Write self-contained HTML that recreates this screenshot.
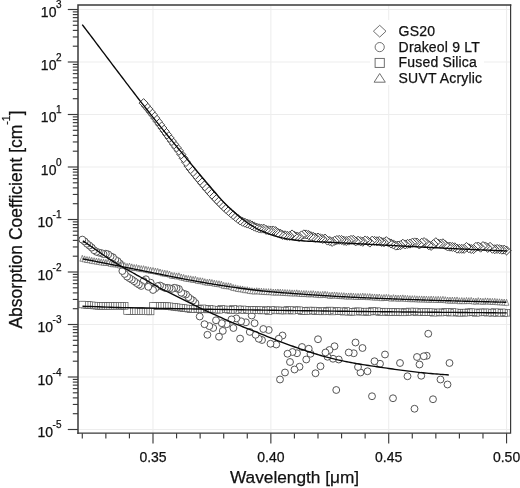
<!DOCTYPE html>
<html lang="en"><head><meta charset="utf-8"><title>Absorption Coefficient vs Wavelength</title>
<style>html,body{margin:0;padding:0;background:#fff;}body{width:520px;height:488px;overflow:hidden;font-family:"Liberation Sans",Arial,sans-serif;}svg{display:block;}</style>
</head><body>
<svg width="520" height="488" viewBox="0 0 520 488">
<rect x="0" y="0" width="520" height="488" fill="#ffffff"/>
<g stroke="#ededed" stroke-width="1.05" fill="none"><line x1="153.00" y1="5.1" x2="153.00" y2="433.2"/><line x1="270.85" y1="5.1" x2="270.85" y2="433.2"/><line x1="388.70" y1="5.1" x2="388.70" y2="433.2"/><line x1="506.55" y1="5.1" x2="506.55" y2="433.2"/><line x1="78.0" y1="429.50" x2="510.6" y2="429.50"/><line x1="78.0" y1="377.00" x2="510.6" y2="377.00"/><line x1="78.0" y1="324.50" x2="510.6" y2="324.50"/><line x1="78.0" y1="272.00" x2="510.6" y2="272.00"/><line x1="78.0" y1="219.50" x2="510.6" y2="219.50"/><line x1="78.0" y1="167.00" x2="510.6" y2="167.00"/><line x1="78.0" y1="114.50" x2="510.6" y2="114.50"/><line x1="78.0" y1="62.00" x2="510.6" y2="62.00"/><line x1="78.0" y1="9.50" x2="510.6" y2="9.50"/></g>
<g fill="#ffffff" stroke="#424242" stroke-width="1.0"><path d="M502.05 250.53L506.55 246.03L511.05 250.53L506.55 255.03Z"/><path d="M499.69 249.60L504.19 245.10L508.69 249.60L504.19 254.10Z"/><path d="M497.34 249.70L501.84 245.20L506.34 249.70L501.84 254.20Z"/><path d="M494.98 249.17L499.48 244.67L503.98 249.17L499.48 253.67Z"/><path d="M492.62 248.92L497.12 244.42L501.62 248.92L497.12 253.42Z"/><path d="M490.27 249.23L494.77 244.73L499.27 249.23L494.77 253.73Z"/><path d="M487.91 248.77L492.41 244.27L496.91 248.77L492.41 253.27Z"/><path d="M485.55 246.79L490.05 242.29L494.55 246.79L490.05 251.29Z"/><path d="M483.19 247.92L487.69 243.42L492.19 247.92L487.69 252.42Z"/><path d="M480.84 246.46L485.34 241.96L489.84 246.46L485.34 250.96Z"/><path d="M478.48 246.06L482.98 241.56L487.48 246.06L482.98 250.56Z"/><path d="M476.12 247.69L480.62 243.19L485.12 247.69L480.62 252.19Z"/><path d="M473.77 246.50L478.27 242.00L482.77 246.50L478.27 251.00Z"/><path d="M471.41 246.83L475.91 242.33L480.41 246.83L475.91 251.33Z"/><path d="M469.05 249.09L473.55 244.59L478.05 249.09L473.55 253.59Z"/><path d="M466.69 248.97L471.19 244.47L475.69 248.97L471.19 253.47Z"/><path d="M464.34 248.29L468.84 243.79L473.34 248.29L468.84 252.79Z"/><path d="M461.98 246.94L466.48 242.44L470.98 246.94L466.48 251.44Z"/><path d="M459.62 248.87L464.12 244.37L468.62 248.87L464.12 253.37Z"/><path d="M457.27 248.81L461.77 244.31L466.27 248.81L461.77 253.31Z"/><path d="M454.91 248.79L459.41 244.29L463.91 248.79L459.41 253.29Z"/><path d="M452.55 248.68L457.05 244.18L461.55 248.68L457.05 253.18Z"/><path d="M450.20 247.28L454.70 242.78L459.20 247.28L454.70 251.78Z"/><path d="M447.84 246.90L452.34 242.40L456.84 246.90L452.34 251.40Z"/><path d="M445.48 246.67L449.98 242.17L454.48 246.67L449.98 251.17Z"/><path d="M443.12 246.50L447.62 242.00L452.12 246.50L447.62 251.00Z"/><path d="M440.77 245.07L445.27 240.57L449.77 245.07L445.27 249.57Z"/><path d="M438.41 243.28L442.91 238.78L447.41 243.28L442.91 247.78Z"/><path d="M436.05 243.61L440.55 239.11L445.05 243.61L440.55 248.11Z"/><path d="M433.70 243.61L438.20 239.11L442.70 243.61L438.20 248.11Z"/><path d="M431.34 242.20L435.84 237.70L440.34 242.20L435.84 246.70Z"/><path d="M428.98 244.08L433.48 239.58L437.98 244.08L433.48 248.58Z"/><path d="M426.63 245.93L431.13 241.43L435.63 245.93L431.13 250.43Z"/><path d="M424.27 245.26L428.77 240.76L433.27 245.26L428.77 249.76Z"/><path d="M421.91 243.25L426.41 238.75L430.91 243.25L426.41 247.75Z"/><path d="M419.56 242.09L424.06 237.59L428.56 242.09L424.06 246.59Z"/><path d="M417.20 242.76L421.70 238.26L426.20 242.76L421.70 247.26Z"/><path d="M414.84 244.50L419.34 240.00L423.84 244.50L419.34 249.00Z"/><path d="M412.48 242.59L416.98 238.09L421.48 242.59L416.98 247.09Z"/><path d="M410.13 242.38L414.63 237.88L419.13 242.38L414.63 246.88Z"/><path d="M407.77 242.72L412.27 238.22L416.77 242.72L412.27 247.22Z"/><path d="M405.41 243.63L409.91 239.13L414.41 243.63L409.91 248.13Z"/><path d="M403.06 243.87L407.56 239.37L412.06 243.87L407.56 248.37Z"/><path d="M400.70 244.46L405.20 239.96L409.70 244.46L405.20 248.96Z"/><path d="M398.34 243.70L402.84 239.20L407.34 243.70L402.84 248.20Z"/><path d="M395.98 245.23L400.48 240.73L404.98 245.23L400.48 249.73Z"/><path d="M393.63 245.51L398.13 241.01L402.63 245.51L398.13 250.01Z"/><path d="M391.27 245.63L395.77 241.13L400.27 245.63L395.77 250.13Z"/><path d="M388.91 244.43L393.41 239.93L397.91 244.43L393.41 248.93Z"/><path d="M386.56 243.48L391.06 238.98L395.56 243.48L391.06 247.98Z"/><path d="M384.20 242.56L388.70 238.06L393.20 242.56L388.70 247.06Z"/><path d="M381.84 241.14L386.34 236.64L390.84 241.14L386.34 245.64Z"/><path d="M379.49 242.25L383.99 237.75L388.49 242.25L383.99 246.75Z"/><path d="M377.13 241.99L381.63 237.49L386.13 241.99L381.63 246.49Z"/><path d="M374.77 240.94L379.27 236.44L383.77 240.94L379.27 245.44Z"/><path d="M372.41 241.28L376.91 236.78L381.41 241.28L376.91 245.78Z"/><path d="M370.06 240.87L374.56 236.37L379.06 240.87L374.56 245.37Z"/><path d="M367.70 240.63L372.20 236.13L376.70 240.63L372.20 245.13Z"/><path d="M365.34 242.58L369.84 238.08L374.34 242.58L369.84 247.08Z"/><path d="M362.99 240.97L367.49 236.47L371.99 240.97L367.49 245.47Z"/><path d="M360.63 240.45L365.13 235.95L369.63 240.45L365.13 244.95Z"/><path d="M358.27 241.81L362.77 237.31L367.27 241.81L362.77 246.31Z"/><path d="M355.92 241.22L360.42 236.72L364.92 241.22L360.42 245.72Z"/><path d="M353.56 240.69L358.06 236.19L362.56 240.69L358.06 245.19Z"/><path d="M351.20 241.41L355.70 236.91L360.20 241.41L355.70 245.91Z"/><path d="M348.84 239.78L353.34 235.28L357.84 239.78L353.34 244.28Z"/><path d="M346.49 239.86L350.99 235.36L355.49 239.86L350.99 244.36Z"/><path d="M344.13 240.62L348.63 236.12L353.13 240.62L348.63 245.12Z"/><path d="M341.77 241.04L346.27 236.54L350.77 241.04L346.27 245.54Z"/><path d="M339.42 240.77L343.92 236.27L348.42 240.77L343.92 245.27Z"/><path d="M337.06 239.94L341.56 235.44L346.06 239.94L341.56 244.44Z"/><path d="M334.70 239.81L339.20 235.31L343.70 239.81L339.20 244.31Z"/><path d="M332.35 240.00L336.85 235.50L341.35 240.00L336.85 244.50Z"/><path d="M329.99 240.84L334.49 236.34L338.99 240.84L334.49 245.34Z"/><path d="M327.63 241.90L332.13 237.40L336.63 241.90L332.13 246.40Z"/><path d="M325.28 241.02L329.78 236.52L334.28 241.02L329.78 245.52Z"/><path d="M322.92 240.59L327.42 236.09L331.92 240.59L327.42 245.09Z"/><path d="M320.56 238.57L325.06 234.07L329.56 238.57L325.06 243.07Z"/><path d="M318.20 238.99L322.70 234.49L327.20 238.99L322.70 243.49Z"/><path d="M315.85 238.29L320.35 233.79L324.85 238.29L320.35 242.79Z"/><path d="M313.49 237.53L317.99 233.03L322.49 237.53L317.99 242.03Z"/><path d="M311.13 237.82L315.63 233.32L320.13 237.82L315.63 242.32Z"/><path d="M308.78 236.78L313.28 232.28L317.78 236.78L313.28 241.28Z"/><path d="M306.42 236.17L310.92 231.67L315.42 236.17L310.92 240.67Z"/><path d="M304.06 234.97L308.56 230.47L313.06 234.97L308.56 239.47Z"/><path d="M301.71 234.43L306.21 229.93L310.71 234.43L306.21 238.93Z"/><path d="M299.35 234.33L303.85 229.83L308.35 234.33L303.85 238.83Z"/><path d="M296.99 235.42L301.49 230.92L305.99 235.42L301.49 239.92Z"/><path d="M294.63 237.01L299.13 232.51L303.63 237.01L299.13 241.51Z"/><path d="M292.28 236.49L296.78 231.99L301.28 236.49L296.78 240.99Z"/><path d="M289.92 235.79L294.42 231.29L298.92 235.79L294.42 240.29Z"/><path d="M287.56 234.43L292.06 229.93L296.56 234.43L292.06 238.93Z"/><path d="M285.21 235.96L289.71 231.46L294.21 235.96L289.71 240.46Z"/><path d="M282.85 235.75L287.35 231.25L291.85 235.75L287.35 240.25Z"/><path d="M280.49 235.29L284.99 230.79L289.49 235.29L284.99 239.79Z"/><path d="M278.13 234.97L282.63 230.47L287.13 234.97L282.63 239.47Z"/><path d="M275.78 233.62L280.28 229.12L284.78 233.62L280.28 238.12Z"/><path d="M273.42 232.90L277.92 228.40L282.42 232.90L277.92 237.40Z"/><path d="M271.06 231.10L275.56 226.60L280.06 231.10L275.56 235.60Z"/><path d="M268.71 230.46L273.21 225.96L277.71 230.46L273.21 234.96Z"/><path d="M266.35 230.67L270.85 226.17L275.35 230.67L270.85 235.17Z"/><path d="M263.99 230.32L268.49 225.82L272.99 230.32L268.49 234.82Z"/><path d="M261.64 229.88L266.14 225.38L270.64 229.88L266.14 234.38Z"/><path d="M259.28 228.62L263.78 224.12L268.28 228.62L263.78 233.12Z"/><path d="M256.92 228.61L261.42 224.11L265.92 228.61L261.42 233.11Z"/><path d="M254.56 228.29L259.06 223.79L263.56 228.29L259.06 232.79Z"/><path d="M252.21 227.62L256.71 223.12L261.21 227.62L256.71 232.12Z"/><path d="M249.85 226.61L254.35 222.11L258.85 226.61L254.35 231.11Z"/><path d="M247.49 225.47L251.99 220.97L256.49 225.47L251.99 229.97Z"/><path d="M245.14 224.35L249.64 219.85L254.14 224.35L249.64 228.85Z"/><path d="M242.78 223.56L247.28 219.06L251.78 223.56L247.28 228.06Z"/><path d="M240.42 222.71L244.92 218.21L249.42 222.71L244.92 227.21Z"/><path d="M238.07 221.77L242.57 217.27L247.07 221.77L242.57 226.27Z"/><path d="M235.71 220.52L240.21 216.02L244.71 220.52L240.21 225.02Z"/><path d="M233.35 218.76L237.85 214.26L242.35 218.76L237.85 223.26Z"/><path d="M230.99 216.89L235.49 212.39L239.99 216.89L235.49 221.39Z"/><path d="M228.64 214.98L233.14 210.48L237.64 214.98L233.14 219.48Z"/><path d="M226.28 213.05L230.78 208.55L235.28 213.05L230.78 217.55Z"/><path d="M223.92 211.06L228.42 206.56L232.92 211.06L228.42 215.56Z"/><path d="M221.57 208.98L226.07 204.48L230.57 208.98L226.07 213.48Z"/><path d="M219.21 206.79L223.71 202.29L228.21 206.79L223.71 211.29Z"/><path d="M216.85 204.47L221.35 199.97L225.85 204.47L221.35 208.97Z"/><path d="M214.50 202.07L219.00 197.57L223.50 202.07L219.00 206.57Z"/><path d="M212.14 199.59L216.64 195.09L221.14 199.59L216.64 204.09Z"/><path d="M209.78 197.08L214.28 192.58L218.78 197.08L214.28 201.58Z"/><path d="M207.43 194.55L211.93 190.05L216.43 194.55L211.93 199.05Z"/><path d="M205.07 191.99L209.57 187.49L214.07 191.99L209.57 196.49Z"/><path d="M202.71 189.19L207.21 184.69L211.71 189.19L207.21 193.69Z"/><path d="M200.35 186.37L204.85 181.87L209.35 186.37L204.85 190.87Z"/><path d="M198.00 183.52L202.50 179.02L207.00 183.52L202.50 188.02Z"/><path d="M195.64 180.67L200.14 176.17L204.64 180.67L200.14 185.17Z"/><path d="M193.28 177.79L197.78 173.29L202.28 177.79L197.78 182.29Z"/><path d="M190.93 174.91L195.43 170.41L199.93 174.91L195.43 179.41Z"/><path d="M188.57 172.03L193.07 167.53L197.57 172.03L193.07 176.53Z"/><path d="M186.21 169.14L190.71 164.64L195.21 169.14L190.71 173.64Z"/><path d="M183.86 165.99L188.36 161.49L192.86 165.99L188.36 170.49Z"/><path d="M181.50 162.12L186.00 157.62L190.50 162.12L186.00 166.62Z"/><path d="M179.14 158.25L183.64 153.75L188.14 158.25L183.64 162.75Z"/><path d="M176.78 154.38L181.28 149.88L185.78 154.38L181.28 158.88Z"/><path d="M174.43 150.79L178.93 146.29L183.43 150.79L178.93 155.29Z"/><path d="M172.07 147.56L176.57 143.06L181.07 147.56L176.57 152.06Z"/><path d="M169.71 144.32L174.21 139.82L178.71 144.32L174.21 148.82Z"/><path d="M167.36 141.07L171.86 136.57L176.36 141.07L171.86 145.57Z"/><path d="M165.00 137.82L169.50 133.32L174.00 137.82L169.50 142.32Z"/><path d="M162.64 134.56L167.14 130.06L171.64 134.56L167.14 139.06Z"/><path d="M160.29 131.29L164.79 126.79L169.29 131.29L164.79 135.79Z"/><path d="M157.93 128.03L162.43 123.53L166.93 128.03L162.43 132.53Z"/><path d="M155.57 124.75L160.07 120.25L164.57 124.75L160.07 129.25Z"/><path d="M153.21 121.46L157.71 116.96L162.21 121.46L157.71 125.96Z"/><path d="M150.86 118.16L155.36 113.66L159.86 118.16L155.36 122.66Z"/><path d="M148.50 114.85L153.00 110.35L157.50 114.85L153.00 119.35Z"/><path d="M146.14 111.79L150.64 107.29L155.14 111.79L150.64 116.29Z"/><path d="M143.79 108.92L148.29 104.42L152.79 108.92L148.29 113.42Z"/><path d="M141.43 106.02L145.93 101.52L150.43 106.02L145.93 110.52Z"/><path d="M139.07 103.12L143.57 98.62L148.07 103.12L143.57 107.62Z"/></g>
<g fill="#ffffff" stroke="#4c4c4c" stroke-width="0.95"><circle cx="449.50" cy="363.00" r="3.45"/><circle cx="447.50" cy="384.50" r="3.45"/><circle cx="440.50" cy="379.50" r="3.45"/><circle cx="433.00" cy="399.25" r="3.45"/><circle cx="428.25" cy="333.75" r="3.45"/><circle cx="426.75" cy="355.75" r="3.45"/><circle cx="423.75" cy="356.25" r="3.45"/><circle cx="421.25" cy="375.75" r="3.45"/><circle cx="419.50" cy="364.50" r="3.45"/><circle cx="417.00" cy="357.00" r="3.45"/><circle cx="414.50" cy="408.75" r="3.45"/><circle cx="407.50" cy="376.25" r="3.45"/><circle cx="400.00" cy="363.00" r="3.45"/><circle cx="393.00" cy="398.25" r="3.45"/><circle cx="385.00" cy="354.50" r="3.45"/><circle cx="380.00" cy="363.75" r="3.45"/><circle cx="374.50" cy="361.25" r="3.45"/><circle cx="372.00" cy="396.25" r="3.45"/><circle cx="367.50" cy="371.25" r="3.45"/><circle cx="362.50" cy="348.00" r="3.45"/><circle cx="360.50" cy="372.50" r="3.45"/><circle cx="358.00" cy="367.00" r="3.45"/><circle cx="355.50" cy="342.50" r="3.45"/><circle cx="353.75" cy="353.25" r="3.45"/><circle cx="348.75" cy="352.50" r="3.45"/><circle cx="338.75" cy="359.50" r="3.45"/><circle cx="336.25" cy="390.00" r="3.45"/><circle cx="334.50" cy="346.25" r="3.45"/><circle cx="333.00" cy="358.75" r="3.45"/><circle cx="329.50" cy="350.00" r="3.45"/><circle cx="327.50" cy="356.75" r="3.45"/><circle cx="325.50" cy="352.50" r="3.45"/><circle cx="320.50" cy="366.25" r="3.45"/><circle cx="318.00" cy="339.25" r="3.45"/><circle cx="315.50" cy="373.25" r="3.45"/><circle cx="310.50" cy="353.75" r="3.45"/><circle cx="308.75" cy="348.75" r="3.45"/><circle cx="306.25" cy="359.50" r="3.45"/><circle cx="302.00" cy="347.00" r="3.45"/><circle cx="299.50" cy="366.75" r="3.45"/><circle cx="297.00" cy="353.25" r="3.45"/><circle cx="294.50" cy="369.50" r="3.45"/><circle cx="292.50" cy="352.00" r="3.45"/><circle cx="290.00" cy="362.00" r="3.45"/><circle cx="287.50" cy="353.75" r="3.45"/><circle cx="285.00" cy="372.50" r="3.45"/><circle cx="282.50" cy="335.50" r="3.45"/><circle cx="280.00" cy="379.50" r="3.45"/><circle cx="278.75" cy="338.75" r="3.45"/><circle cx="276.25" cy="344.50" r="3.45"/><circle cx="270.50" cy="343.75" r="3.45"/><circle cx="268.75" cy="330.00" r="3.45"/><circle cx="263.30" cy="329.00" r="3.45"/><circle cx="262.00" cy="340.00" r="3.45"/><circle cx="258.75" cy="338.75" r="3.45"/><circle cx="255.60" cy="334.80" r="3.45"/><circle cx="254.60" cy="323.20" r="3.45"/><circle cx="251.70" cy="315.50" r="3.45"/><circle cx="249.80" cy="331.90" r="3.45"/><circle cx="245.90" cy="322.30" r="3.45"/><circle cx="241.10" cy="321.30" r="3.45"/><circle cx="240.10" cy="338.60" r="3.45"/><circle cx="236.30" cy="318.40" r="3.45"/><circle cx="233.40" cy="328.00" r="3.45"/><circle cx="231.50" cy="319.40" r="3.45"/><circle cx="226.70" cy="324.20" r="3.45"/><circle cx="222.80" cy="330.90" r="3.45"/><circle cx="221.80" cy="323.20" r="3.45"/><circle cx="219.00" cy="336.70" r="3.45"/><circle cx="216.00" cy="320.30" r="3.45"/><circle cx="213.20" cy="328.00" r="3.45"/><circle cx="209.30" cy="326.10" r="3.45"/><circle cx="207.40" cy="334.80" r="3.45"/><circle cx="204.50" cy="324.20" r="3.45"/><circle cx="199.70" cy="316.50" r="3.45"/><circle cx="195.44" cy="303.03" r="3.45"/><circle cx="193.08" cy="300.53" r="3.45"/><circle cx="190.72" cy="299.04" r="3.45"/><circle cx="188.36" cy="297.16" r="3.45"/><circle cx="186.01" cy="294.48" r="3.45"/><circle cx="183.65" cy="293.72" r="3.45"/><circle cx="181.29" cy="292.70" r="3.45"/><circle cx="178.94" cy="289.04" r="3.45"/><circle cx="176.58" cy="288.26" r="3.45"/><circle cx="174.22" cy="287.82" r="3.45"/><circle cx="171.87" cy="288.92" r="3.45"/><circle cx="169.51" cy="288.27" r="3.45"/><circle cx="167.15" cy="287.85" r="3.45"/><circle cx="164.79" cy="287.85" r="3.45"/><circle cx="162.44" cy="286.78" r="3.45"/><circle cx="160.08" cy="285.54" r="3.45"/><circle cx="157.72" cy="286.09" r="3.45"/><circle cx="155.37" cy="288.24" r="3.45"/><circle cx="153.01" cy="289.96" r="3.45"/><circle cx="150.65" cy="282.71" r="3.45"/><circle cx="148.30" cy="286.81" r="3.45"/><circle cx="145.94" cy="279.28" r="3.45"/><circle cx="143.58" cy="281.10" r="3.45"/><circle cx="141.22" cy="285.94" r="3.45"/><circle cx="138.87" cy="284.55" r="3.45"/><circle cx="136.51" cy="282.96" r="3.45"/><circle cx="134.15" cy="281.17" r="3.45"/><circle cx="131.80" cy="279.61" r="3.45"/><circle cx="129.44" cy="278.12" r="3.45"/><circle cx="127.08" cy="276.62" r="3.45"/><circle cx="124.73" cy="273.94" r="3.45"/><circle cx="122.37" cy="271.02" r="3.45"/><circle cx="120.01" cy="263.68" r="3.45"/><circle cx="117.65" cy="261.17" r="3.45"/><circle cx="115.30" cy="259.89" r="3.45"/><circle cx="112.94" cy="257.31" r="3.45"/><circle cx="110.58" cy="256.38" r="3.45"/><circle cx="108.23" cy="254.44" r="3.45"/><circle cx="105.87" cy="253.72" r="3.45"/><circle cx="103.51" cy="254.13" r="3.45"/><circle cx="101.16" cy="253.02" r="3.45"/><circle cx="98.80" cy="252.56" r="3.45"/><circle cx="96.44" cy="251.79" r="3.45"/><circle cx="94.08" cy="250.20" r="3.45"/><circle cx="91.73" cy="247.60" r="3.45"/><circle cx="89.37" cy="245.56" r="3.45"/><circle cx="87.01" cy="243.76" r="3.45"/><circle cx="84.66" cy="241.42" r="3.45"/><circle cx="82.30" cy="239.60" r="3.45"/></g>
<g fill="#ffffff" stroke="#484848" stroke-width="0.65"><rect x="503.25" y="309.51" width="6.6" height="6.6"/><rect x="500.89" y="309.79" width="6.6" height="6.6"/><rect x="498.54" y="308.97" width="6.6" height="6.6"/><rect x="496.18" y="309.34" width="6.6" height="6.6"/><rect x="493.82" y="309.61" width="6.6" height="6.6"/><rect x="491.47" y="308.78" width="6.6" height="6.6"/><rect x="489.11" y="309.57" width="6.6" height="6.6"/><rect x="486.75" y="309.09" width="6.6" height="6.6"/><rect x="484.39" y="309.39" width="6.6" height="6.6"/><rect x="482.04" y="308.94" width="6.6" height="6.6"/><rect x="479.68" y="309.15" width="6.6" height="6.6"/><rect x="477.32" y="309.09" width="6.6" height="6.6"/><rect x="474.97" y="309.17" width="6.6" height="6.6"/><rect x="472.61" y="309.59" width="6.6" height="6.6"/><rect x="470.25" y="309.10" width="6.6" height="6.6"/><rect x="467.90" y="308.81" width="6.6" height="6.6"/><rect x="465.54" y="308.90" width="6.6" height="6.6"/><rect x="463.18" y="309.28" width="6.6" height="6.6"/><rect x="460.82" y="309.45" width="6.6" height="6.6"/><rect x="458.47" y="309.19" width="6.6" height="6.6"/><rect x="456.11" y="309.41" width="6.6" height="6.6"/><rect x="453.75" y="309.45" width="6.6" height="6.6"/><rect x="451.40" y="308.95" width="6.6" height="6.6"/><rect x="449.04" y="308.61" width="6.6" height="6.6"/><rect x="446.68" y="309.41" width="6.6" height="6.6"/><rect x="444.33" y="308.90" width="6.6" height="6.6"/><rect x="441.97" y="308.67" width="6.6" height="6.6"/><rect x="439.61" y="308.96" width="6.6" height="6.6"/><rect x="437.25" y="309.30" width="6.6" height="6.6"/><rect x="434.90" y="309.14" width="6.6" height="6.6"/><rect x="432.54" y="308.97" width="6.6" height="6.6"/><rect x="430.18" y="309.47" width="6.6" height="6.6"/><rect x="427.83" y="308.99" width="6.6" height="6.6"/><rect x="425.47" y="308.72" width="6.6" height="6.6"/><rect x="423.11" y="308.86" width="6.6" height="6.6"/><rect x="420.76" y="308.79" width="6.6" height="6.6"/><rect x="418.40" y="308.82" width="6.6" height="6.6"/><rect x="416.04" y="308.44" width="6.6" height="6.6"/><rect x="413.68" y="309.10" width="6.6" height="6.6"/><rect x="411.33" y="308.17" width="6.6" height="6.6"/><rect x="408.97" y="308.41" width="6.6" height="6.6"/><rect x="406.61" y="308.15" width="6.6" height="6.6"/><rect x="404.26" y="308.95" width="6.6" height="6.6"/><rect x="401.90" y="308.47" width="6.6" height="6.6"/><rect x="399.54" y="309.13" width="6.6" height="6.6"/><rect x="397.19" y="309.07" width="6.6" height="6.6"/><rect x="394.83" y="308.91" width="6.6" height="6.6"/><rect x="392.47" y="308.55" width="6.6" height="6.6"/><rect x="390.11" y="308.94" width="6.6" height="6.6"/><rect x="387.76" y="308.54" width="6.6" height="6.6"/><rect x="385.40" y="308.75" width="6.6" height="6.6"/><rect x="383.04" y="308.47" width="6.6" height="6.6"/><rect x="380.69" y="308.26" width="6.6" height="6.6"/><rect x="378.33" y="308.51" width="6.6" height="6.6"/><rect x="375.97" y="308.64" width="6.6" height="6.6"/><rect x="373.62" y="307.81" width="6.6" height="6.6"/><rect x="371.26" y="308.22" width="6.6" height="6.6"/><rect x="368.90" y="307.62" width="6.6" height="6.6"/><rect x="366.54" y="308.20" width="6.6" height="6.6"/><rect x="364.19" y="308.68" width="6.6" height="6.6"/><rect x="361.83" y="308.26" width="6.6" height="6.6"/><rect x="359.47" y="308.23" width="6.6" height="6.6"/><rect x="357.12" y="308.48" width="6.6" height="6.6"/><rect x="354.76" y="307.92" width="6.6" height="6.6"/><rect x="352.40" y="308.06" width="6.6" height="6.6"/><rect x="350.05" y="308.52" width="6.6" height="6.6"/><rect x="347.69" y="308.50" width="6.6" height="6.6"/><rect x="345.33" y="308.36" width="6.6" height="6.6"/><rect x="342.97" y="307.68" width="6.6" height="6.6"/><rect x="340.62" y="308.41" width="6.6" height="6.6"/><rect x="338.26" y="308.05" width="6.6" height="6.6"/><rect x="335.90" y="308.02" width="6.6" height="6.6"/><rect x="333.55" y="307.69" width="6.6" height="6.6"/><rect x="331.19" y="307.81" width="6.6" height="6.6"/><rect x="328.83" y="308.23" width="6.6" height="6.6"/><rect x="326.48" y="307.18" width="6.6" height="6.6"/><rect x="324.12" y="307.69" width="6.6" height="6.6"/><rect x="321.76" y="308.00" width="6.6" height="6.6"/><rect x="319.40" y="308.14" width="6.6" height="6.6"/><rect x="317.05" y="307.37" width="6.6" height="6.6"/><rect x="314.69" y="308.09" width="6.6" height="6.6"/><rect x="312.33" y="307.80" width="6.6" height="6.6"/><rect x="309.98" y="307.20" width="6.6" height="6.6"/><rect x="307.62" y="307.51" width="6.6" height="6.6"/><rect x="305.26" y="307.19" width="6.6" height="6.6"/><rect x="302.91" y="307.88" width="6.6" height="6.6"/><rect x="300.55" y="307.63" width="6.6" height="6.6"/><rect x="298.19" y="307.75" width="6.6" height="6.6"/><rect x="295.83" y="306.90" width="6.6" height="6.6"/><rect x="293.48" y="307.00" width="6.6" height="6.6"/><rect x="291.12" y="306.98" width="6.6" height="6.6"/><rect x="288.76" y="307.42" width="6.6" height="6.6"/><rect x="286.41" y="306.75" width="6.6" height="6.6"/><rect x="284.05" y="306.71" width="6.6" height="6.6"/><rect x="281.69" y="307.32" width="6.6" height="6.6"/><rect x="279.34" y="307.16" width="6.6" height="6.6"/><rect x="276.98" y="307.27" width="6.6" height="6.6"/><rect x="274.62" y="307.06" width="6.6" height="6.6"/><rect x="272.26" y="306.91" width="6.6" height="6.6"/><rect x="269.91" y="307.23" width="6.6" height="6.6"/><rect x="267.55" y="306.57" width="6.6" height="6.6"/><rect x="265.19" y="307.71" width="6.6" height="6.6"/><rect x="262.84" y="306.76" width="6.6" height="6.6"/><rect x="260.48" y="307.12" width="6.6" height="6.6"/><rect x="258.12" y="307.23" width="6.6" height="6.6"/><rect x="255.77" y="306.71" width="6.6" height="6.6"/><rect x="253.41" y="306.74" width="6.6" height="6.6"/><rect x="251.05" y="306.91" width="6.6" height="6.6"/><rect x="248.69" y="306.69" width="6.6" height="6.6"/><rect x="246.34" y="306.55" width="6.6" height="6.6"/><rect x="243.98" y="306.92" width="6.6" height="6.6"/><rect x="241.62" y="306.57" width="6.6" height="6.6"/><rect x="239.27" y="306.04" width="6.6" height="6.6"/><rect x="236.91" y="306.65" width="6.6" height="6.6"/><rect x="234.55" y="305.98" width="6.6" height="6.6"/><rect x="232.20" y="306.70" width="6.6" height="6.6"/><rect x="229.84" y="305.53" width="6.6" height="6.6"/><rect x="227.48" y="306.63" width="6.6" height="6.6"/><rect x="225.12" y="306.45" width="6.6" height="6.6"/><rect x="222.77" y="306.12" width="6.6" height="6.6"/><rect x="220.41" y="306.08" width="6.6" height="6.6"/><rect x="218.05" y="305.63" width="6.6" height="6.6"/><rect x="215.70" y="306.55" width="6.6" height="6.6"/><rect x="213.34" y="306.32" width="6.6" height="6.6"/><rect x="210.98" y="306.31" width="6.6" height="6.6"/><rect x="208.63" y="305.97" width="6.6" height="6.6"/><rect x="206.27" y="305.60" width="6.6" height="6.6"/><rect x="203.91" y="306.21" width="6.6" height="6.6"/><rect x="201.55" y="305.72" width="6.6" height="6.6"/><rect x="199.20" y="305.00" width="6.6" height="6.6"/><rect x="196.84" y="305.76" width="6.6" height="6.6"/><rect x="194.48" y="305.67" width="6.6" height="6.6"/><rect x="192.13" y="305.67" width="6.6" height="6.6"/><rect x="189.77" y="305.49" width="6.6" height="6.6"/><rect x="187.41" y="305.72" width="6.6" height="6.6"/><rect x="185.06" y="305.39" width="6.6" height="6.6"/><rect x="182.70" y="305.09" width="6.6" height="6.6"/><rect x="180.34" y="304.79" width="6.6" height="6.6"/><rect x="177.98" y="304.49" width="6.6" height="6.6"/><rect x="175.63" y="304.19" width="6.6" height="6.6"/><rect x="173.27" y="303.89" width="6.6" height="6.6"/><rect x="170.91" y="303.60" width="6.6" height="6.6"/><rect x="168.56" y="303.30" width="6.6" height="6.6"/><rect x="166.20" y="303.00" width="6.6" height="6.6"/><rect x="163.84" y="302.79" width="6.6" height="6.6"/><rect x="161.49" y="302.75" width="6.6" height="6.6"/><rect x="159.13" y="302.71" width="6.6" height="6.6"/><rect x="156.77" y="302.66" width="6.6" height="6.6"/><rect x="154.41" y="302.62" width="6.6" height="6.6"/><rect x="152.06" y="302.57" width="6.6" height="6.6"/><rect x="149.70" y="302.53" width="6.6" height="6.6"/><rect x="147.34" y="308.18" width="6.6" height="6.6"/><rect x="144.99" y="308.14" width="6.6" height="6.6"/><rect x="142.63" y="308.09" width="6.6" height="6.6"/><rect x="140.27" y="308.04" width="6.6" height="6.6"/><rect x="137.92" y="307.99" width="6.6" height="6.6"/><rect x="135.56" y="307.94" width="6.6" height="6.6"/><rect x="133.20" y="307.89" width="6.6" height="6.6"/><rect x="130.84" y="307.84" width="6.6" height="6.6"/><rect x="128.49" y="307.79" width="6.6" height="6.6"/><rect x="126.13" y="307.74" width="6.6" height="6.6"/><rect x="123.77" y="307.68" width="6.6" height="6.6"/><rect x="121.42" y="302.58" width="6.6" height="6.6"/><rect x="119.06" y="302.47" width="6.6" height="6.6"/><rect x="116.70" y="302.41" width="6.6" height="6.6"/><rect x="114.35" y="302.39" width="6.6" height="6.6"/><rect x="111.99" y="302.40" width="6.6" height="6.6"/><rect x="109.63" y="302.45" width="6.6" height="6.6"/><rect x="107.27" y="302.50" width="6.6" height="6.6"/><rect x="104.92" y="302.56" width="6.6" height="6.6"/><rect x="102.56" y="302.60" width="6.6" height="6.6"/><rect x="100.20" y="302.62" width="6.6" height="6.6"/><rect x="97.85" y="302.59" width="6.6" height="6.6"/><rect x="95.49" y="302.52" width="6.6" height="6.6"/><rect x="93.13" y="302.40" width="6.6" height="6.6"/><rect x="90.78" y="302.24" width="6.6" height="6.6"/><rect x="88.42" y="302.05" width="6.6" height="6.6"/><rect x="86.06" y="301.84" width="6.6" height="6.6"/><rect x="83.70" y="301.61" width="6.6" height="6.6"/><rect x="81.35" y="301.40" width="6.6" height="6.6"/><rect x="78.99" y="301.21" width="6.6" height="6.6"/></g>
<g fill="#ffffff" stroke="#484848" stroke-width="0.6"><path d="M79.89 261.24L82.29 255.24L84.69 261.24Z"/><path d="M82.25 261.88L84.65 255.88L87.05 261.88Z"/><path d="M84.60 262.49L87.00 256.49L89.40 262.49Z"/><path d="M86.96 262.71L89.36 256.71L91.76 262.71Z"/><path d="M89.32 263.32L91.72 257.32L94.12 263.32Z"/><path d="M91.68 263.69L94.08 257.69L96.48 263.69Z"/><path d="M94.03 264.04L96.43 258.04L98.83 264.04Z"/><path d="M96.39 264.34L98.79 258.34L101.19 264.34Z"/><path d="M98.75 264.91L101.15 258.91L103.55 264.91Z"/><path d="M101.10 265.15L103.50 259.15L105.90 265.15Z"/><path d="M103.46 265.48L105.86 259.48L108.26 265.48Z"/><path d="M105.82 265.34L108.22 259.34L110.62 265.34Z"/><path d="M108.17 266.31L110.57 260.31L112.97 266.31Z"/><path d="M110.53 266.76L112.93 260.76L115.33 266.76Z"/><path d="M112.89 266.81L115.29 260.81L117.69 266.81Z"/><path d="M115.25 267.15L117.65 261.15L120.05 267.15Z"/><path d="M117.60 268.00L120.00 262.00L122.40 268.00Z"/><path d="M119.96 267.68L122.36 261.68L124.76 267.68Z"/><path d="M122.32 268.54L124.72 262.54L127.12 268.54Z"/><path d="M124.67 269.35L127.07 263.35L129.47 269.35Z"/><path d="M127.03 269.10L129.43 263.10L131.83 269.10Z"/><path d="M129.39 269.85L131.79 263.85L134.19 269.85Z"/><path d="M131.74 270.51L134.14 264.51L136.54 270.51Z"/><path d="M134.10 270.53L136.50 264.53L138.90 270.53Z"/><path d="M136.46 271.10L138.86 265.10L141.26 271.10Z"/><path d="M138.82 271.59L141.22 265.59L143.62 271.59Z"/><path d="M141.17 271.65L143.57 265.65L145.97 271.65Z"/><path d="M143.53 272.24L145.93 266.24L148.33 272.24Z"/><path d="M145.89 272.73L148.29 266.73L150.69 272.73Z"/><path d="M148.24 273.26L150.64 267.26L153.04 273.26Z"/><path d="M150.60 273.51L153.00 267.51L155.40 273.51Z"/><path d="M152.96 273.97L155.36 267.97L157.76 273.97Z"/><path d="M155.31 274.34L157.71 268.34L160.11 274.34Z"/><path d="M157.67 275.01L160.07 269.01L162.47 275.01Z"/><path d="M160.03 275.79L162.43 269.79L164.83 275.79Z"/><path d="M162.39 276.17L164.79 270.17L167.19 276.17Z"/><path d="M164.74 276.52L167.14 270.52L169.54 276.52Z"/><path d="M167.10 277.05L169.50 271.05L171.90 277.05Z"/><path d="M169.46 278.29L171.86 272.29L174.26 278.29Z"/><path d="M171.81 278.51L174.21 272.51L176.61 278.51Z"/><path d="M174.17 278.94L176.57 272.94L178.97 278.94Z"/><path d="M176.53 278.81L178.93 272.81L181.33 278.81Z"/><path d="M178.88 279.97L181.28 273.97L183.68 279.97Z"/><path d="M181.24 280.45L183.64 274.45L186.04 280.45Z"/><path d="M183.60 281.20L186.00 275.20L188.40 281.20Z"/><path d="M185.96 281.44L188.36 275.44L190.76 281.44Z"/><path d="M188.31 281.82L190.71 275.82L193.11 281.82Z"/><path d="M190.67 282.38L193.07 276.38L195.47 282.38Z"/><path d="M193.03 282.32L195.43 276.32L197.83 282.32Z"/><path d="M195.38 283.35L197.78 277.35L200.18 283.35Z"/><path d="M197.74 283.64L200.14 277.64L202.54 283.64Z"/><path d="M200.10 283.86L202.50 277.86L204.90 283.86Z"/><path d="M202.45 284.69L204.85 278.69L207.25 284.69Z"/><path d="M204.81 285.21L207.21 279.21L209.61 285.21Z"/><path d="M207.17 284.98L209.57 278.98L211.97 284.98Z"/><path d="M209.53 285.53L211.93 279.53L214.33 285.53Z"/><path d="M211.88 286.13L214.28 280.13L216.68 286.13Z"/><path d="M214.24 286.50L216.64 280.50L219.04 286.50Z"/><path d="M216.60 286.78L219.00 280.78L221.40 286.78Z"/><path d="M218.95 287.15L221.35 281.15L223.75 287.15Z"/><path d="M221.31 288.32L223.71 282.32L226.11 288.32Z"/><path d="M223.67 288.65L226.07 282.65L228.47 288.65Z"/><path d="M226.02 288.75L228.42 282.75L230.82 288.75Z"/><path d="M228.38 289.26L230.78 283.26L233.18 289.26Z"/><path d="M230.74 290.40L233.14 284.40L235.54 290.40Z"/><path d="M233.10 290.79L235.50 284.79L237.90 290.79Z"/><path d="M235.45 291.48L237.85 285.48L240.25 291.48Z"/><path d="M237.81 291.79L240.21 285.79L242.61 291.79Z"/><path d="M240.17 291.97L242.57 285.97L244.97 291.97Z"/><path d="M242.52 292.70L244.92 286.70L247.32 292.70Z"/><path d="M244.88 292.71L247.28 286.71L249.68 292.71Z"/><path d="M247.24 293.48L249.64 287.48L252.04 293.48Z"/><path d="M249.59 293.75L251.99 287.75L254.39 293.75Z"/><path d="M251.95 293.95L254.35 287.95L256.75 293.95Z"/><path d="M254.31 293.76L256.71 287.76L259.11 293.76Z"/><path d="M256.67 293.94L259.07 287.94L261.47 293.94Z"/><path d="M259.02 294.19L261.42 288.19L263.82 294.19Z"/><path d="M261.38 294.35L263.78 288.35L266.18 294.35Z"/><path d="M263.74 294.57L266.14 288.57L268.54 294.57Z"/><path d="M266.09 294.64L268.49 288.64L270.89 294.64Z"/><path d="M268.45 294.68L270.85 288.68L273.25 294.68Z"/><path d="M270.81 295.04L273.21 289.04L275.61 295.04Z"/><path d="M273.16 295.03L275.56 289.03L277.96 295.03Z"/><path d="M275.52 294.98L277.92 288.98L280.32 294.98Z"/><path d="M277.88 295.15L280.28 289.15L282.68 295.15Z"/><path d="M280.24 295.39L282.64 289.39L285.04 295.39Z"/><path d="M282.59 295.49L284.99 289.49L287.39 295.49Z"/><path d="M284.95 295.65L287.35 289.65L289.75 295.65Z"/><path d="M287.31 295.73L289.71 289.73L292.11 295.73Z"/><path d="M289.66 295.88L292.06 289.88L294.46 295.88Z"/><path d="M292.02 295.92L294.42 289.92L296.82 295.92Z"/><path d="M294.38 295.80L296.78 289.80L299.18 295.80Z"/><path d="M296.73 296.25L299.13 290.25L301.53 296.25Z"/><path d="M299.09 296.51L301.49 290.51L303.89 296.51Z"/><path d="M301.45 296.54L303.85 290.54L306.25 296.54Z"/><path d="M303.81 296.56L306.21 290.56L308.61 296.56Z"/><path d="M306.16 296.84L308.56 290.84L310.96 296.84Z"/><path d="M308.52 296.71L310.92 290.71L313.32 296.71Z"/><path d="M310.88 296.67L313.28 290.67L315.68 296.67Z"/><path d="M313.23 297.20L315.63 291.20L318.03 297.20Z"/><path d="M315.59 297.15L317.99 291.15L320.39 297.15Z"/><path d="M317.95 297.62L320.35 291.62L322.75 297.62Z"/><path d="M320.30 297.39L322.70 291.39L325.10 297.39Z"/><path d="M322.66 297.22L325.06 291.22L327.46 297.22Z"/><path d="M325.02 297.67L327.42 291.67L329.82 297.67Z"/><path d="M327.38 298.32L329.78 292.32L332.18 298.32Z"/><path d="M329.73 298.04L332.13 292.04L334.53 298.04Z"/><path d="M332.09 297.95L334.49 291.95L336.89 297.95Z"/><path d="M334.45 298.18L336.85 292.18L339.25 298.18Z"/><path d="M336.80 298.54L339.20 292.54L341.60 298.54Z"/><path d="M339.16 298.64L341.56 292.64L343.96 298.64Z"/><path d="M341.52 298.68L343.92 292.68L346.32 298.68Z"/><path d="M343.87 299.04L346.27 293.04L348.67 299.04Z"/><path d="M346.23 298.98L348.63 292.98L351.03 298.98Z"/><path d="M348.59 298.92L350.99 292.92L353.39 298.92Z"/><path d="M350.95 299.14L353.35 293.14L355.75 299.14Z"/><path d="M353.30 299.44L355.70 293.44L358.10 299.44Z"/><path d="M355.66 299.39L358.06 293.39L360.46 299.39Z"/><path d="M358.02 299.48L360.42 293.48L362.82 299.48Z"/><path d="M360.37 299.14L362.77 293.14L365.17 299.14Z"/><path d="M362.73 299.41L365.13 293.41L367.53 299.41Z"/><path d="M365.09 299.66L367.49 293.66L369.89 299.66Z"/><path d="M367.44 299.54L369.84 293.54L372.24 299.54Z"/><path d="M369.80 299.92L372.20 293.92L374.60 299.92Z"/><path d="M372.16 299.94L374.56 293.94L376.96 299.94Z"/><path d="M374.52 300.12L376.92 294.12L379.32 300.12Z"/><path d="M376.87 300.00L379.27 294.00L381.67 300.00Z"/><path d="M379.23 300.67L381.63 294.67L384.03 300.67Z"/><path d="M381.59 300.51L383.99 294.51L386.39 300.51Z"/><path d="M383.94 300.33L386.34 294.33L388.74 300.33Z"/><path d="M386.30 300.50L388.70 294.50L391.10 300.50Z"/><path d="M388.66 301.11L391.06 295.11L393.46 301.11Z"/><path d="M391.01 300.63L393.41 294.63L395.81 300.63Z"/><path d="M393.37 300.97L395.77 294.97L398.17 300.97Z"/><path d="M395.73 301.10L398.13 295.10L400.53 301.10Z"/><path d="M398.09 301.01L400.49 295.01L402.89 301.01Z"/><path d="M400.44 300.87L402.84 294.87L405.24 300.87Z"/><path d="M402.80 301.24L405.20 295.24L407.60 301.24Z"/><path d="M405.16 301.38L407.56 295.38L409.96 301.38Z"/><path d="M407.51 301.63L409.91 295.63L412.31 301.63Z"/><path d="M409.87 301.66L412.27 295.66L414.67 301.66Z"/><path d="M412.23 301.61L414.63 295.61L417.03 301.61Z"/><path d="M414.58 301.87L416.98 295.87L419.38 301.87Z"/><path d="M416.94 301.90L419.34 295.90L421.74 301.90Z"/><path d="M419.30 301.93L421.70 295.93L424.10 301.93Z"/><path d="M421.66 301.99L424.06 295.99L426.45 301.99Z"/><path d="M424.01 302.03L426.41 296.03L428.81 302.03Z"/><path d="M426.37 302.31L428.77 296.31L431.17 302.31Z"/><path d="M428.73 302.05L431.13 296.05L433.53 302.05Z"/><path d="M431.08 302.23L433.48 296.23L435.88 302.23Z"/><path d="M433.44 302.44L435.84 296.44L438.24 302.44Z"/><path d="M435.80 302.24L438.20 296.24L440.60 302.24Z"/><path d="M438.15 302.53L440.55 296.53L442.95 302.53Z"/><path d="M440.51 302.31L442.91 296.31L445.31 302.31Z"/><path d="M442.87 302.67L445.27 296.67L447.67 302.67Z"/><path d="M445.23 303.01L447.62 297.01L450.02 303.01Z"/><path d="M447.58 303.10L449.98 297.10L452.38 303.10Z"/><path d="M449.94 303.06L452.34 297.06L454.74 303.06Z"/><path d="M452.30 303.11L454.70 297.11L457.10 303.11Z"/><path d="M454.65 302.96L457.05 296.96L459.45 302.96Z"/><path d="M457.01 303.70L459.41 297.70L461.81 303.70Z"/><path d="M459.37 303.52L461.77 297.52L464.17 303.52Z"/><path d="M461.72 303.72L464.12 297.72L466.52 303.72Z"/><path d="M464.08 303.41L466.48 297.41L468.88 303.41Z"/><path d="M466.44 303.63L468.84 297.63L471.24 303.63Z"/><path d="M468.80 303.39L471.19 297.39L473.59 303.39Z"/><path d="M471.15 303.99L473.55 297.99L475.95 303.99Z"/><path d="M473.51 304.10L475.91 298.10L478.31 304.10Z"/><path d="M475.87 303.62L478.27 297.62L480.67 303.62Z"/><path d="M478.22 304.07L480.62 298.07L483.02 304.07Z"/><path d="M480.58 304.29L482.98 298.29L485.38 304.29Z"/><path d="M482.94 303.89L485.34 297.89L487.74 303.89Z"/><path d="M485.29 303.96L487.69 297.96L490.09 303.96Z"/><path d="M487.65 304.19L490.05 298.19L492.45 304.19Z"/><path d="M490.01 304.36L492.41 298.36L494.81 304.36Z"/><path d="M492.37 304.29L494.77 298.29L497.17 304.29Z"/><path d="M494.72 304.66L497.12 298.66L499.52 304.66Z"/><path d="M497.08 304.78L499.48 298.78L501.88 304.78Z"/><path d="M499.44 304.94L501.84 298.94L504.24 304.94Z"/><path d="M501.79 305.04L504.19 299.04L506.59 305.04Z"/><path d="M504.15 305.28L506.55 299.28L508.95 305.28Z"/></g>
<g fill="none" stroke="#0a0a0a" stroke-width="1.38" stroke-linejoin="round">
<polyline points="82.25,24.60 84.25,27.23 86.25,29.86 88.25,32.49 90.25,35.13 92.25,37.78 94.25,40.43 96.25,43.08 98.25,45.73 100.25,48.38 102.25,51.04 104.25,53.69 106.25,56.35 108.25,59.00 110.25,61.66 112.25,64.31 114.25,66.96 116.25,69.61 118.25,72.26 120.25,74.90 122.25,77.54 124.25,80.18 126.25,82.81 128.25,85.43 130.25,88.05 132.25,90.67 134.25,93.27 136.25,95.87 138.25,98.46 140.25,101.05 142.25,103.62 144.25,106.19 146.25,108.75 148.25,111.29 150.25,113.83 152.25,116.36 154.25,118.87 156.25,121.38 158.25,123.87 160.25,126.36 162.25,128.84 164.25,131.32 166.25,133.78 168.25,136.24 170.25,138.69 172.25,141.14 174.25,143.58 176.25,146.01 178.25,148.44 180.25,150.87 182.25,153.29 184.25,155.71 186.25,158.13 188.25,160.54 190.25,162.95 192.25,165.36 194.25,167.77 196.25,170.18 198.25,172.59 200.25,174.98 202.25,177.37 204.25,179.75 206.25,182.11 208.25,184.46 210.25,186.79 212.25,189.12 214.25,191.47 216.25,193.80 218.25,196.12 220.25,198.38 222.25,200.59 224.25,202.72 226.25,204.76 228.25,206.71 230.25,208.60 232.25,210.44 234.25,212.25 236.25,214.05 238.25,215.81 240.25,217.48 242.25,219.05 244.25,220.54 246.25,221.95 248.25,223.31 250.25,224.63 252.25,225.93 254.25,227.20 256.25,228.37 258.25,229.42 260.25,230.34 262.25,231.18 264.25,231.99 266.25,232.82 268.25,233.64 270.25,234.39 272.25,235.09 274.25,235.76 276.25,236.38 278.25,236.95 280.25,237.46 282.25,237.93 284.25,238.36 286.25,238.75 288.25,239.11 290.25,239.43 292.25,239.74 294.25,240.02 296.25,240.27 298.25,240.48 300.25,240.65 302.25,240.81 304.25,240.95 306.25,241.08 308.25,241.20 310.25,241.31 312.25,241.43 314.25,241.54 316.25,241.64 318.25,241.74 320.25,241.83 322.25,241.93 324.25,242.02 326.25,242.12 328.25,242.21 330.25,242.31 332.25,242.41 334.25,242.52 336.25,242.62 338.25,242.72 340.25,242.82 342.25,242.92 344.25,243.03 346.25,243.13 348.25,243.23 350.25,243.34 352.25,243.44 354.25,243.54 356.25,243.64 358.25,243.75 360.25,243.85 362.25,243.95 364.25,244.06 366.25,244.16 368.25,244.27 370.25,244.37 372.25,244.47 374.25,244.58 376.25,244.68 378.25,244.79 380.25,244.89 382.25,244.99 384.25,245.10 386.25,245.20 388.25,245.31 390.25,245.41 392.25,245.52 394.25,245.62 396.25,245.72 398.25,245.83 400.25,245.93 402.25,246.04 404.25,246.14 406.25,246.25 408.25,246.35 410.25,246.45 412.25,246.56 414.25,246.66 416.25,246.77 418.25,246.87 420.25,246.98 422.25,247.08 424.25,247.19 426.25,247.29 428.25,247.40 430.25,247.50 432.25,247.61 434.25,247.71 436.25,247.81 438.25,247.91 440.25,248.01 442.25,248.11 444.25,248.20 446.25,248.30 448.25,248.39 450.25,248.49 452.25,248.58 454.25,248.67 456.25,248.76 458.25,248.85 460.25,248.95 462.25,249.03 464.25,249.12 466.25,249.21 468.25,249.30 470.25,249.39 472.25,249.48 474.25,249.57 476.25,249.65 478.25,249.74 480.25,249.83 482.25,249.91 484.25,250.00 486.25,250.09 488.25,250.18 490.25,250.26 492.25,250.35 494.25,250.44 496.25,250.52 498.25,250.61 500.25,250.70 502.25,250.79 504.25,250.88 506.25,250.97 507.00,251.00"/>
<polyline points="82.80,240.84 84.80,242.19 86.80,243.55 88.80,244.90 90.80,246.25 92.80,247.61 94.80,248.97 96.80,250.33 98.80,251.71 100.80,253.11 102.80,254.52 104.80,255.94 106.80,257.32 108.80,258.67 110.80,259.96 112.80,261.22 114.80,262.46 116.80,263.68 118.80,264.88 120.80,266.07 122.80,267.23 124.80,268.37 126.80,269.49 128.80,270.57 130.80,271.65 132.80,272.76 134.80,273.90 136.80,275.04 138.80,276.17 140.80,277.27 142.80,278.36 144.80,279.44 146.80,280.54 148.80,281.66 150.80,282.82 152.80,284.01 154.80,285.21 156.80,286.38 158.80,287.49 160.80,288.54 162.80,289.56 164.80,290.54 166.80,291.50 168.80,292.45 170.80,293.40 172.80,294.36 174.80,295.35 176.80,296.34 178.80,297.34 180.80,298.34 182.80,299.35 184.80,300.35 186.80,301.35 188.80,302.35 190.80,303.35 192.80,304.36 194.80,305.37 196.80,306.37 198.80,307.37 200.80,308.35 202.80,309.31 204.80,310.24 206.80,311.16 208.80,312.06 210.80,312.96 212.80,313.84 214.80,314.73 216.80,315.63 218.80,316.54 220.80,317.46 222.80,318.38 224.80,319.30 226.80,320.20 228.80,321.08 230.80,321.94 232.80,322.77 234.80,323.59 236.80,324.40 238.80,325.19 240.80,325.97 242.80,326.75 244.80,327.53 246.80,328.30 248.80,329.07 250.80,329.85 252.80,330.63 254.80,331.42 256.80,332.22 258.80,333.02 260.80,333.83 262.80,334.65 264.80,335.46 266.80,336.28 268.80,337.09 270.80,337.89 272.80,338.69 274.80,339.49 276.80,340.27 278.80,341.04 280.80,341.80 282.80,342.56 284.80,343.31 286.80,344.06 288.80,344.80 290.80,345.54 292.80,346.27 294.80,346.99 296.80,347.70 298.80,348.40 300.80,349.09 302.80,349.77 304.80,350.43 306.80,351.09 308.80,351.74 310.80,352.39 312.80,353.03 314.80,353.66 316.80,354.28 318.80,354.89 320.80,355.49 322.80,356.07 324.80,356.63 326.80,357.18 328.80,357.70 330.80,358.20 332.80,358.68 334.80,359.16 336.80,359.62 338.80,360.06 340.80,360.50 342.80,360.93 344.80,361.34 346.80,361.75 348.80,362.14 350.80,362.52 352.80,362.90 354.80,363.26 356.80,363.62 358.80,363.96 360.80,364.30 362.80,364.62 364.80,364.94 366.80,365.24 368.80,365.55 370.80,365.85 372.80,366.14 374.80,366.44 376.80,366.73 378.80,367.02 380.80,367.32 382.80,367.61 384.80,367.90 386.80,368.19 388.80,368.47 390.80,368.76 392.80,369.03 394.80,369.31 396.80,369.58 398.80,369.84 400.80,370.10 402.80,370.36 404.80,370.62 406.80,370.88 408.80,371.14 410.80,371.39 412.80,371.64 414.80,371.88 416.80,372.12 418.80,372.35 420.80,372.57 422.80,372.78 424.80,372.98 426.80,373.17 428.80,373.35 430.80,373.53 432.80,373.69 434.80,373.85 436.80,374.01 438.80,374.17 440.80,374.32 442.80,374.47 444.80,374.63 446.80,374.78 448.80,374.94"/>
<polyline points="82.40,258.82 84.40,259.21 86.40,259.61 88.40,260.00 90.40,260.39 92.40,260.79 94.40,261.18 96.40,261.57 98.40,261.96 100.40,262.36 102.40,262.75 104.40,263.14 106.40,263.53 108.40,263.93 110.40,264.32 112.40,264.71 114.40,265.11 116.40,265.50 118.40,265.90 120.40,266.29 122.40,266.69 124.40,267.08 126.40,267.48 128.40,267.88 130.40,268.28 132.40,268.68 134.40,269.08 136.40,269.48 138.40,269.88 140.40,270.28 142.40,270.68 144.40,271.08 146.40,271.48 148.40,271.88 150.40,272.28 152.40,272.68 154.40,273.08 156.40,273.48 158.40,273.89 160.40,274.29 162.40,274.70 164.40,275.10 166.40,275.51 168.40,275.91 170.40,276.32 172.40,276.72 174.40,277.12 176.40,277.51 178.40,277.91 180.40,278.29 182.40,278.68 184.40,279.06 186.40,279.44 188.40,279.81 190.40,280.17 192.40,280.53 194.40,280.89 196.40,281.25 198.40,281.60 200.40,281.96 202.40,282.30 204.40,282.65 206.40,282.99 208.40,283.33 210.40,283.67 212.40,284.00 214.40,284.33 216.40,284.65 218.40,284.97 220.40,285.29 222.40,285.60 224.40,285.91 226.40,286.21 228.40,286.51 230.40,286.81 232.40,287.11 234.40,287.40 236.40,287.68 238.40,287.96 240.40,288.24 242.40,288.51 244.40,288.78 246.40,289.04 248.40,289.30 250.40,289.55 252.40,289.80 254.40,290.04 256.40,290.28 258.40,290.51 260.40,290.73 262.40,290.94 264.40,291.14 266.40,291.33 268.40,291.52 270.40,291.70 272.40,291.88 274.40,292.05 276.40,292.21 278.40,292.38 280.40,292.54 282.40,292.70 284.40,292.85 286.40,293.00 288.40,293.15 290.40,293.30 292.40,293.45 294.40,293.60 296.40,293.74 298.40,293.88 300.40,294.03 302.40,294.17 304.40,294.32 306.40,294.46 308.40,294.60 310.40,294.74 312.40,294.88 314.40,295.01 316.40,295.15 318.40,295.28 320.40,295.41 322.40,295.54 324.40,295.67 326.40,295.79 328.40,295.92 330.40,296.04 332.40,296.15 334.40,296.27 336.40,296.38 338.40,296.49 340.40,296.60 342.40,296.70 344.40,296.81 346.40,296.91 348.40,297.01 350.40,297.11 352.40,297.21 354.40,297.30 356.40,297.40 358.40,297.49 360.40,297.58 362.40,297.67 364.40,297.76 366.40,297.85 368.40,297.93 370.40,298.02 372.40,298.10 374.40,298.18 376.40,298.26 378.40,298.34 380.40,298.42 382.40,298.50 384.40,298.58 386.40,298.66 388.40,298.74 390.40,298.81 392.40,298.89 394.40,298.96 396.40,299.04 398.40,299.11 400.40,299.18 402.40,299.26 404.40,299.33 406.40,299.40 408.40,299.47 410.40,299.54 412.40,299.61 414.40,299.67 416.40,299.74 418.40,299.81 420.40,299.88 422.40,299.94 424.40,300.01 426.40,300.07 428.40,300.14 430.40,300.20 432.40,300.26 434.40,300.33 436.40,300.39 438.40,300.45 440.40,300.51 442.40,300.57 444.40,300.63 446.40,300.69 448.40,300.75 450.40,300.81 452.40,300.86 454.40,300.92 456.40,300.98 458.40,301.03 460.40,301.09 462.40,301.14 464.40,301.19 466.40,301.25 468.40,301.30 470.40,301.35 472.40,301.40 474.40,301.45 476.40,301.51 478.40,301.56 480.40,301.61 482.40,301.66 484.40,301.71 486.40,301.76 488.40,301.81 490.40,301.87 492.40,301.92 494.40,301.97 496.40,302.02 498.40,302.07 500.40,302.12 502.40,302.18 504.40,302.23 506.40,302.28"/>
<polyline points="82.50,306.20 86.50,306.35 90.50,306.50 94.50,306.65 98.50,306.81 102.50,306.96 106.50,307.10 110.50,307.24 114.50,307.36 118.50,307.47 122.50,307.57 126.50,307.67 130.50,307.76 134.50,307.85 138.50,307.94 142.50,308.02 146.50,308.10 150.50,308.18 154.50,308.26 158.50,308.33 162.50,308.41 166.50,308.48 170.50,308.55 174.50,308.62 178.50,308.69 182.50,308.76 186.50,308.84 190.50,308.91 194.50,308.98 198.50,309.05 202.50,309.12 206.50,309.19 210.50,309.26 214.50,309.33 218.50,309.40 222.50,309.46 226.50,309.53 230.50,309.59 234.50,309.66 238.50,309.72 242.50,309.78 246.50,309.85 250.50,309.91 254.50,309.97 258.50,310.03 262.50,310.09 266.50,310.15 270.50,310.21 274.50,310.27 278.50,310.33 282.50,310.39 286.50,310.45 290.50,310.51 294.50,310.57 298.50,310.63 302.50,310.69 306.50,310.74 310.50,310.80 314.50,310.86 318.50,310.92 322.50,310.97 326.50,311.03 330.50,311.08 334.50,311.14 338.50,311.19 342.50,311.24 346.50,311.29 350.50,311.35 354.50,311.40 358.50,311.45 362.50,311.50 366.50,311.54 370.50,311.59 374.50,311.64 378.50,311.68 382.50,311.73 386.50,311.77 390.50,311.81 394.50,311.86 398.50,311.90 402.50,311.94 406.50,311.98 410.50,312.02 414.50,312.06 418.50,312.10 422.50,312.13 426.50,312.17 430.50,312.21 434.50,312.25 438.50,312.28 442.50,312.32 446.50,312.36 450.50,312.39 454.50,312.43 458.50,312.46 462.50,312.50 466.50,312.53 470.50,312.57 474.50,312.60 478.50,312.64 482.50,312.68 486.50,312.71 490.50,312.75 494.50,312.78 498.50,312.82 502.50,312.86 506.50,312.90 506.80,312.90"/>
</g>
<g stroke="#3a3a3a" stroke-width="1.15" fill="none"><line x1="67.8" y1="429.50" x2="78.0" y2="429.50"/><line x1="72.8" y1="413.70" x2="78.0" y2="413.70"/><line x1="72.8" y1="404.45" x2="78.0" y2="404.45"/><line x1="72.8" y1="397.89" x2="78.0" y2="397.89"/><line x1="72.8" y1="392.80" x2="78.0" y2="392.80"/><line x1="72.8" y1="388.65" x2="78.0" y2="388.65"/><line x1="72.8" y1="385.13" x2="78.0" y2="385.13"/><line x1="72.8" y1="382.09" x2="78.0" y2="382.09"/><line x1="72.8" y1="379.40" x2="78.0" y2="379.40"/><line x1="67.8" y1="377.00" x2="78.0" y2="377.00"/><line x1="72.8" y1="361.20" x2="78.0" y2="361.20"/><line x1="72.8" y1="351.95" x2="78.0" y2="351.95"/><line x1="72.8" y1="345.39" x2="78.0" y2="345.39"/><line x1="72.8" y1="340.30" x2="78.0" y2="340.30"/><line x1="72.8" y1="336.15" x2="78.0" y2="336.15"/><line x1="72.8" y1="332.63" x2="78.0" y2="332.63"/><line x1="72.8" y1="329.59" x2="78.0" y2="329.59"/><line x1="72.8" y1="326.90" x2="78.0" y2="326.90"/><line x1="67.8" y1="324.50" x2="78.0" y2="324.50"/><line x1="72.8" y1="308.70" x2="78.0" y2="308.70"/><line x1="72.8" y1="299.45" x2="78.0" y2="299.45"/><line x1="72.8" y1="292.89" x2="78.0" y2="292.89"/><line x1="72.8" y1="287.80" x2="78.0" y2="287.80"/><line x1="72.8" y1="283.65" x2="78.0" y2="283.65"/><line x1="72.8" y1="280.13" x2="78.0" y2="280.13"/><line x1="72.8" y1="277.09" x2="78.0" y2="277.09"/><line x1="72.8" y1="274.40" x2="78.0" y2="274.40"/><line x1="67.8" y1="272.00" x2="78.0" y2="272.00"/><line x1="72.8" y1="256.20" x2="78.0" y2="256.20"/><line x1="72.8" y1="246.95" x2="78.0" y2="246.95"/><line x1="72.8" y1="240.39" x2="78.0" y2="240.39"/><line x1="72.8" y1="235.30" x2="78.0" y2="235.30"/><line x1="72.8" y1="231.15" x2="78.0" y2="231.15"/><line x1="72.8" y1="227.63" x2="78.0" y2="227.63"/><line x1="72.8" y1="224.59" x2="78.0" y2="224.59"/><line x1="72.8" y1="221.90" x2="78.0" y2="221.90"/><line x1="67.8" y1="219.50" x2="78.0" y2="219.50"/><line x1="72.8" y1="203.70" x2="78.0" y2="203.70"/><line x1="72.8" y1="194.45" x2="78.0" y2="194.45"/><line x1="72.8" y1="187.89" x2="78.0" y2="187.89"/><line x1="72.8" y1="182.80" x2="78.0" y2="182.80"/><line x1="72.8" y1="178.65" x2="78.0" y2="178.65"/><line x1="72.8" y1="175.13" x2="78.0" y2="175.13"/><line x1="72.8" y1="172.09" x2="78.0" y2="172.09"/><line x1="72.8" y1="169.40" x2="78.0" y2="169.40"/><line x1="67.8" y1="167.00" x2="78.0" y2="167.00"/><line x1="72.8" y1="151.20" x2="78.0" y2="151.20"/><line x1="72.8" y1="141.95" x2="78.0" y2="141.95"/><line x1="72.8" y1="135.39" x2="78.0" y2="135.39"/><line x1="72.8" y1="130.30" x2="78.0" y2="130.30"/><line x1="72.8" y1="126.15" x2="78.0" y2="126.15"/><line x1="72.8" y1="122.63" x2="78.0" y2="122.63"/><line x1="72.8" y1="119.59" x2="78.0" y2="119.59"/><line x1="72.8" y1="116.90" x2="78.0" y2="116.90"/><line x1="67.8" y1="114.50" x2="78.0" y2="114.50"/><line x1="72.8" y1="98.70" x2="78.0" y2="98.70"/><line x1="72.8" y1="89.45" x2="78.0" y2="89.45"/><line x1="72.8" y1="82.89" x2="78.0" y2="82.89"/><line x1="72.8" y1="77.80" x2="78.0" y2="77.80"/><line x1="72.8" y1="73.65" x2="78.0" y2="73.65"/><line x1="72.8" y1="70.13" x2="78.0" y2="70.13"/><line x1="72.8" y1="67.09" x2="78.0" y2="67.09"/><line x1="72.8" y1="64.40" x2="78.0" y2="64.40"/><line x1="67.8" y1="62.00" x2="78.0" y2="62.00"/><line x1="72.8" y1="46.20" x2="78.0" y2="46.20"/><line x1="72.8" y1="36.95" x2="78.0" y2="36.95"/><line x1="72.8" y1="30.39" x2="78.0" y2="30.39"/><line x1="72.8" y1="25.30" x2="78.0" y2="25.30"/><line x1="72.8" y1="21.15" x2="78.0" y2="21.15"/><line x1="72.8" y1="17.63" x2="78.0" y2="17.63"/><line x1="72.8" y1="14.59" x2="78.0" y2="14.59"/><line x1="72.8" y1="11.90" x2="78.0" y2="11.90"/><line x1="67.8" y1="9.50" x2="78.0" y2="9.50"/><line x1="82.29" y1="433.2" x2="82.29" y2="438.4"/><line x1="105.86" y1="433.2" x2="105.86" y2="438.4"/><line x1="129.43" y1="433.2" x2="129.43" y2="438.4"/><line x1="153.00" y1="433.2" x2="153.00" y2="443.4"/><line x1="176.57" y1="433.2" x2="176.57" y2="438.4"/><line x1="200.14" y1="433.2" x2="200.14" y2="438.4"/><line x1="223.71" y1="433.2" x2="223.71" y2="438.4"/><line x1="247.28" y1="433.2" x2="247.28" y2="438.4"/><line x1="270.85" y1="433.2" x2="270.85" y2="443.4"/><line x1="294.42" y1="433.2" x2="294.42" y2="438.4"/><line x1="317.99" y1="433.2" x2="317.99" y2="438.4"/><line x1="341.56" y1="433.2" x2="341.56" y2="438.4"/><line x1="365.13" y1="433.2" x2="365.13" y2="438.4"/><line x1="388.70" y1="433.2" x2="388.70" y2="443.4"/><line x1="412.27" y1="433.2" x2="412.27" y2="438.4"/><line x1="435.84" y1="433.2" x2="435.84" y2="438.4"/><line x1="459.41" y1="433.2" x2="459.41" y2="438.4"/><line x1="482.98" y1="433.2" x2="482.98" y2="438.4"/><line x1="506.55" y1="433.2" x2="506.55" y2="443.4"/></g>
<g fill="none" stroke="#3a3a3a" stroke-linecap="square">
<path d="M78.00 433.20L78.00 5.10L510.60 5.10" stroke-width="1.5"/>
<path d="M78.00 433.20L510.60 433.20L510.60 5.10" stroke-width="1.2"/>
</g>
<g font-family="'Liberation Sans', Arial, Helvetica, sans-serif" fill="#111111" stroke="#111111" stroke-width="0.25">
<text x="37.54" y="437.10" font-size="14">10</text>
<text x="52.61" y="428.10" font-size="10">-5</text>
<text x="37.54" y="384.60" font-size="14">10</text>
<text x="52.61" y="375.60" font-size="10">-4</text>
<text x="37.54" y="332.10" font-size="14">10</text>
<text x="52.61" y="323.10" font-size="10">-3</text>
<text x="37.54" y="279.60" font-size="14">10</text>
<text x="52.61" y="270.60" font-size="10">-2</text>
<text x="37.54" y="227.10" font-size="14">10</text>
<text x="52.61" y="218.10" font-size="10">-1</text>
<text x="40.87" y="174.60" font-size="14">10</text>
<text x="55.94" y="165.60" font-size="10">0</text>
<text x="40.87" y="122.10" font-size="14">10</text>
<text x="55.94" y="113.10" font-size="10">1</text>
<text x="40.87" y="69.60" font-size="14">10</text>
<text x="55.94" y="60.60" font-size="10">2</text>
<text x="40.87" y="17.10" font-size="14">10</text>
<text x="55.94" y="8.10" font-size="10">3</text>
<text x="153.00" y="461.6" font-size="14" text-anchor="middle">0.35</text>
<text x="270.85" y="461.6" font-size="14" text-anchor="middle">0.40</text>
<text x="388.70" y="461.6" font-size="14" text-anchor="middle">0.45</text>
<text x="506.55" y="461.6" font-size="14" text-anchor="middle">0.50</text>
<text x="294.5" y="483.3" font-size="17.25" text-anchor="middle">Wavelength [μm]</text>
<text transform="translate(21.6,219.5) rotate(-90)" font-size="17.5" text-anchor="middle">Absorption Coefficient [cm<tspan font-size="10.5" dy="-11.8">-1</tspan><tspan dy="11.8">]</tspan></text>
</g>
<rect x="370" y="20" width="114" height="65" fill="#ffffff"/>
<g font-family="'Liberation Sans', Arial, Helvetica, sans-serif" fill="#111111" stroke="#111111" stroke-width="0.25" letter-spacing="0.18">
<text x="398.6" y="36.1" font-size="14">GS20</text>
<text x="398.6" y="51.7" font-size="14">Drakeol 9 LT</text>
<text x="398.6" y="67.4" font-size="14">Fused Silica</text>
<text x="398.6" y="82.8" font-size="14">SUVT Acrylic</text>
</g>
<g fill="#ffffff" stroke="#606060" stroke-width="0.9">
<path d="M373.40 31.20L379.70 25.30L386.00 31.20L379.70 37.10Z"/>
<circle cx="379.70" cy="47.1" r="4.6"/>
<rect x="375.10" y="58.4" width="9.2" height="9.0"/>
<path d="M374.10 82.2L379.70 73.5L385.30 82.2Z"/>
</g>
</svg>
</body></html>
